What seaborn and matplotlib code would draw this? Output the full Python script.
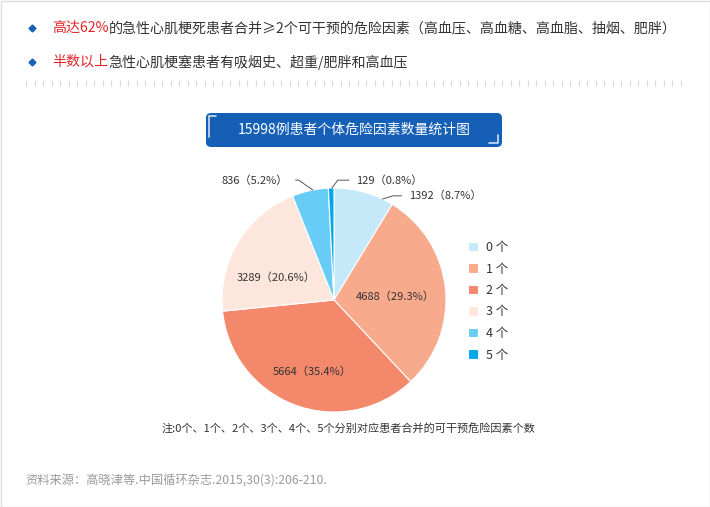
import numpy as np
import seaborn as sns
import matplotlib.pyplot as plt
from matplotlib.patches import Rectangle, FancyBboxPatch

# data
categories = ['0 个', '1 个', '2 个', '3 个', '4 个', '5 个']
counts = [1392, 4688, 5664, 3289, 836, 129]
percents = [8.7, 29.3, 35.4, 20.6, 5.2, 0.8]
colors = ['#c6e9f9', '#f8aa8d', '#f4886b', '#fde7dd', '#67cdf6', '#00a7ea']

sns.set_theme(style='white')
plt.rcParams['font.family'] = ['Noto Sans CJK SC', 'DejaVu Sans']

W, H = 710, 507
fig = plt.figure(figsize=(W / 100, H / 100), dpi=100)
fig.patch.set_facecolor('white')

# background axes in pixel coordinates
bg = fig.add_axes([0, 0, 1, 1])
bg.set_xlim(0, W)
bg.set_ylim(H, 0)
bg.axis('off')
bg.add_patch(Rectangle((0.5, 0.5), W - 1, H - 1, fill=False, ec='#dddddd', lw=1))

# bullet lines
red = '#e3252a'
dark = '#333333'
lines = [('高达62%', '的急性心肌梗死患者合并≥2个可干预的危险因素（高血压、高血糖、高血脂、抽烟、肥胖）'),
         ('半数以上', '急性心肌梗塞患者有吸烟史、超重/肥胖和高血压')]
for y, (hl, rest) in zip([28, 62], lines):
    bg.plot(32, y, marker='D', ms=3.5, color='#1660b5')
    t = bg.text(52, y, hl, color=red, fontsize=10.1, va='center')
    bg.annotate(rest, xy=(1, 0.5), xycoords=t, va='center', ha='left',
                color=dark, fontsize=10.1)

# dotted separator
xs = np.arange(26, 686, 8.5)
bg.plot(xs, np.full_like(xs, 83), ls='none', marker='|', ms=4, mew=0.8, color='#d9d9d9')

# title box
bg.add_patch(FancyBboxPatch((206, 113), 296, 34, boxstyle='round,pad=0,rounding_size=5',
                            fc='#1560b6', ec='none'))
bg.plot([209, 209, 216], [137, 116, 116], color='white', lw=1.2, alpha=0.8)
bg.plot([489, 498, 498], [143, 143, 135], color='white', lw=1.2, alpha=0.8)
bg.text(354, 130, '15998例患者个体危险因素数量统计图', color='white', fontsize=10,
        ha='center', va='center')

# pie
cx, cy, r = 334, 300, 112
pax = fig.add_axes([(cx - r) / W, (H - cy - r) / H, 2 * r / W, 2 * r / H])
wedges, _ = pax.pie(counts, colors=colors, startangle=90, counterclock=False,
                    wedgeprops=dict(edgecolor='white', linewidth=0.8))
pax.set_xlim(-1, 1)
pax.set_ylim(-1, 1)
pax.set_aspect('equal')

labels = [f'{c}（{p}%）' for c, p in zip(counts, percents)]


def polar(w, off=0.0, d=1.0):
    a = np.deg2rad((w.theta1 + w.theta2) / 2 + off)
    return d * np.cos(a), d * np.sin(a)


# inside labels: (slice, angle offset, radial distance)
for i, off, d in [(1, -3, 0.55), (2, 3.5, 0.67), (3, 10, 0.555)]:
    pax.text(*polar(wedges[i], off, d), labels[i], fontsize=8, color=dark,
             ha='center', va='center')

# outside labels with leader lines: (slice, angle offset, text pos, align, leader angle)
outside = [(0, -10, (0.67, 0.93), 'left', 17),
           (5, -0.4, (0.20, 1.07), 'left', 53),
           (4, -1.4, (-0.41, 1.07), 'right', 145)]
for i, off, (tx, ty), ha, ang in outside:
    pax.annotate(labels[i], xy=polar(wedges[i], off), xytext=(tx, ty), fontsize=8,
                 color=dark, ha=ha, va='center',
                 arrowprops=dict(arrowstyle='-', color='#555555', lw=0.7, shrinkA=3, shrinkB=0,
                                 relpos=(0, 0.5) if ha == 'left' else (1, 0.5),
                                 connectionstyle=f'angle,angleA=0,angleB={ang},rad=0'))

# legend
leg = pax.legend(wedges, categories, loc='upper left', bbox_to_anchor=(468, 241),
                 bbox_transform=bg.transData, frameon=False, fontsize=9,
                 handlelength=0.8, handleheight=0.8, handletextpad=0.6,
                 labelspacing=0.68, borderpad=0, borderaxespad=0)
for txt in leg.get_texts():
    txt.set_color(dark)

# note and source
bg.text(348, 428, '注:0个、1个、2个、3个、4个、5个分别对应患者合并的可干预危险因素个数',
        fontsize=8, color=dark, ha='center', va='center')
bg.text(25, 481, '资料来源：高晓津等.中国循环杂志.2015,30(3):206-210.', fontsize=8.8,
        color='#9a9a9a', ha='left', va='center')

fig.savefig('out.png', dpi=100, facecolor='white')
